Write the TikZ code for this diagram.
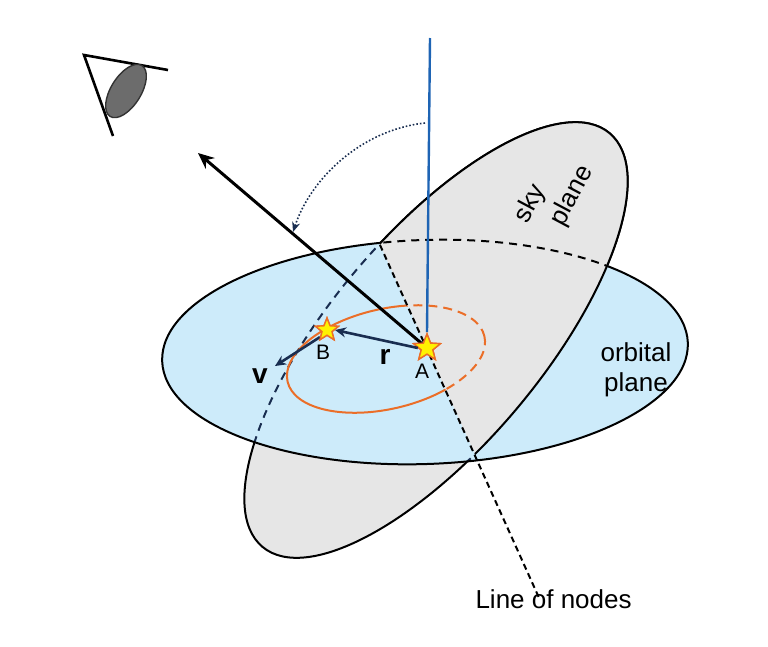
\documentclass[tikz,border=0pt]{standalone}
\usepackage{fontspec}
\setmainfont{Liberation Sans}
\usetikzlibrary{shapes.geometric,arrows.meta}
\definecolor{skygray}{RGB}{230,230,230}
\definecolor{orbblue}{RGB}{205,235,250}
\definecolor{navy}{RGB}{25,45,80}
\definecolor{orbit}{RGB}{235,110,40}
\definecolor{zaxis}{RGB}{30,100,180}
\tikzset{
  lbl/.style={font=\fontsize{26}{30}\selectfont},
  starpt/.style={star, star points=5, star point ratio=2.3, minimum size=28pt, inner sep=0pt, fill=yellow, draw=orbit, line width=1.4pt},
  vec/.style={navy, line width=2.6pt, -{Stealth[length=11pt,width=10pt]}},
  skyell/.style={x radius=270, y radius=106, rotate=50},
  orbell/.style={x radius=263, y radius=112, rotate=2}
}
\begin{document}
\begin{tikzpicture}[x=1pt, y=-1pt]
\useasboundingbox (0,0) rectangle (768,646);

% sky plane (behind)
\fill[skygray] (436,340) ellipse [skyell];
\draw[line width=2pt] (436,340) ellipse [skyell];
% orbital plane
\fill[orbblue] (425,352) ellipse [orbell];
\begin{scope}
  \clip (0,0) -- (269,0) -- (562,646) -- (0,646) -- cycle;
  \clip (425,352) ellipse [orbell];
  \draw[line width=2pt, dash pattern=on 8pt off 6pt, navy] (436,340) ellipse [skyell];
\end{scope}
\draw[line width=2pt] (425,352) ellipse [orbell];
\draw[orbit, line width=2pt] (386,359) ellipse [x radius=101, y radius=50, rotate=13];
% sky plane in front of the line of nodes
\begin{scope}
  \clip (269,0) -- (768,0) -- (768,646) -- (562,646) -- cycle;
  \fill[skygray] (436,340) ellipse [skyell];
  \draw[line width=2pt] (436,340) ellipse [skyell];
  \clip (436,340) ellipse [skyell];
  \draw[line width=2pt, dash pattern=on 8pt off 6pt] (425,352) ellipse [orbell];
  \draw[orbit, line width=2pt, dash pattern=on 9pt off 6pt] (386,359) ellipse [x radius=101, y radius=50, rotate=13];
\end{scope}

% line of nodes
\coordinate (n1) at (380,245);
\coordinate (n2) at (540,600);
\draw[line width=2pt, dash pattern=on 6pt off 4pt] (n1) -- (n2);
\node[lbl, anchor=north west] (lon) at (472,586) {Line of nodes};

% stars and vectors
\node[starpt] (A) at (427,348) {};
\node[starpt, minimum size=24pt] (B) at (327,330) {};
\coordinate (up) at (430,38);
\coordinate (los) at (198,153);
\coordinate (vend) at (275,366);
\draw[zaxis, line width=2.4pt] (A.north) -- (up);
\draw[line width=3pt, -{Stealth[length=16pt,width=14pt]}] (A.center) -- (los);
\node[starpt] at (A) {};
\draw[vec] (A.west) -- (B.east);
\draw[vec] (B.south west) -- (vend);
\node[starpt, minimum size=24pt] at (B) {};
\node[font=\fontsize{21}{24}\selectfont] (Alab) at (422,371) {A};
\node[font=\fontsize{21}{24}\selectfont] (Blab) at (323,352) {B};
\node[font=\fontsize{28}{30}\selectfont\bfseries] (rlab) at (385,357) {r};
\node[font=\fontsize{28}{30}\selectfont\bfseries] (vlab) at (260,376) {v};

% labels of planes
\node[lbl, rotate=62, inner sep=0pt] (sky) at (531,204) {sky};
\node[lbl, rotate=62, inner sep=0pt] (skyp) at (572,196) {plane};
\node[lbl, align=center, inner sep=0pt] (orb) at (636,370) {orbital\\plane};

% rotation hint
\coordinate (d1) at (425,123);
\coordinate (d2) at (293,232);
\draw[navy, line width=1.6pt, dotted, -{Stealth[length=10pt,width=8pt]}] (d1) .. controls (360,130) and (310,180) .. (d2);

% eye
\coordinate (eye) at (84,55);
\draw[line width=2.6pt] (168,70) -- (eye) -- (113,136);
\draw[fill=gray!85!black, line width=1.4pt, draw=black!80] (126,91) ellipse [x radius=30, y radius=15, rotate=58];
\end{tikzpicture}
\end{document}
